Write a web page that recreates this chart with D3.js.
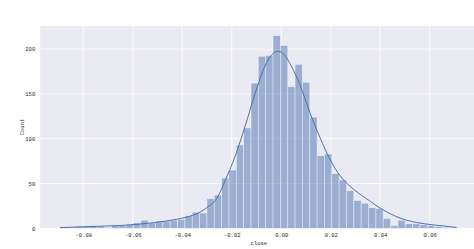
<!DOCTYPE html>
<html><head><meta charset="utf-8">
<script src="https://cdn.jsdelivr.net/npm/d3@7"></script>
<style>body{margin:0;background:#fff}svg{display:block}</style>
</head><body>
<svg id="c" width="474" height="249"></svg>
<script>
// ---- data ----
const dataMin = -0.0894;
const dataMax = 0.0709;
const counts = [1,1,2,2,3,2,1,3,3,4,
                6,9,6,8,8,9,10,14,18,17,
                33,37,56,65,93,112,162,192,193,215,
                204,158,183,163,124,81,83,61,54,42,
                31,28,23,22,11,3,9,5,5,4,
                3,2,1,1];
const kdeX = [-0.0894,-0.0813,-0.0740,-0.0660,-0.0580,-0.0500,-0.0436,-0.0369,-0.0328,-0.0301,
              -0.0261,-0.0227,-0.0187,-0.0147,-0.0106,-0.0066,-0.0037,-0.0012,0.0015,0.0035,
              0.0076,0.0116,0.0157,0.0197,0.0237,0.0278,0.0345,0.0412,0.0480,0.0547,
              0.0614,0.0682,0.0709];
const kdeY = [0.8,1.6,2.2,3.0,4.5,6.8,9.5,13.5,18,23,
              33,53,80,113,150,181,194,197.5,193,184,
              160,129,101,77,59,47,33,20.5,11.5,6.5,
              3.8,1.8,1.0];
const xTicks = [-0.08,-0.06,-0.04,-0.02,0.00,0.02,0.04,0.06];
const yTicks = [0,50,100,150,200];
const xLabel = "close";
const yLabel = "Count";

// ---- layout ----
const svg = d3.select("#c");
const pL = 40.2, pR = 476.5, pT = 26, pB = 228.3;
const span = dataMax - dataMin;
const x = d3.scaleLinear().domain([dataMin - 0.05*span, dataMax + 0.05*span]).range([pL, pR]);
const y = d3.scaleLinear().domain([0, d3.max(counts)*1.05]).range([pB, pT]);
const binW = span / counts.length;
const bins = counts.map((c,i)=>({x0: dataMin + i*binW, x1: dataMin + (i+1)*binW, c}));

svg.append("rect").attr("x", pL).attr("y", pT).attr("width", pR-pL).attr("height", pB-pT).attr("fill", "#EAEAF2");

const g = svg.append("g");
// gridlines
g.selectAll(".gx").data(xTicks).enter().append("line")
  .attr("x1", d=>x(d)).attr("x2", d=>x(d)).attr("y1", pT).attr("y2", pB)
  .attr("stroke", "#fff").attr("stroke-width", 0.8);
g.selectAll(".gy").data(yTicks).enter().append("line")
  .attr("x1", pL).attr("x2", pR).attr("y1", d=>y(d)).attr("y2", d=>y(d))
  .attr("stroke", "#fff").attr("stroke-width", 0.8);

// bars
g.selectAll(".bar").data(bins).enter().append("rect")
  .attr("x", d=>x(d.x0)).attr("width", d=>x(d.x1)-x(d.x0))
  .attr("y", d=>y(d.c)).attr("height", d=>y(0)-y(d.c))
  .attr("fill", "#4C72B0").attr("fill-opacity", 0.5)
  .attr("stroke", "#fff").attr("stroke-opacity", 0.55).attr("stroke-width", 0.7);

// kde line
const line = d3.line().x(d=>x(d[0])).y(d=>y(d[1])).curve(d3.curveMonotoneX);
g.append("path").datum(kdeX.map((v,i)=>[v,kdeY[i]]))
  .attr("d", line).attr("fill", "none").attr("stroke", "#4C72B0").attr("stroke-width", 1);

// axes (labels only, no spines/ticks)
const font = "'Liberation Mono','DejaVu Sans Mono',monospace";
const fmt = d => d3.format(".2f")(d).replace("\u2212", "-");
const xAxis = d3.axisBottom(x).tickValues(xTicks).tickFormat(fmt).tickSize(0).tickPadding(5);
const yAxis = d3.axisLeft(y).tickValues(yTicks).tickFormat(d3.format("d")).tickSize(0).tickPadding(5);
const ax = svg.append("g").attr("transform", `translate(0,${pB})`).call(xAxis);
const ay = svg.append("g").attr("transform", `translate(${pL},0)`).call(yAxis);
[ax, ay].forEach(a => {
  a.select(".domain").remove();
  a.selectAll("text").attr("font-family", font).attr("font-size", 5.5).attr("fill", "#262626");
});

svg.append("text").attr("x", (pL+pR)/2 + 0.5).attr("y", 244.5).attr("text-anchor", "middle")
  .attr("font-family", font).attr("font-size", 5.5).attr("fill", "#262626").text(xLabel);
svg.append("text").attr("transform", "translate(23.5,127) rotate(-90)").attr("text-anchor", "middle")
  .attr("font-family", font).attr("font-size", 5.5).attr("fill", "#262626").text(yLabel);
</script>
</body></html>
